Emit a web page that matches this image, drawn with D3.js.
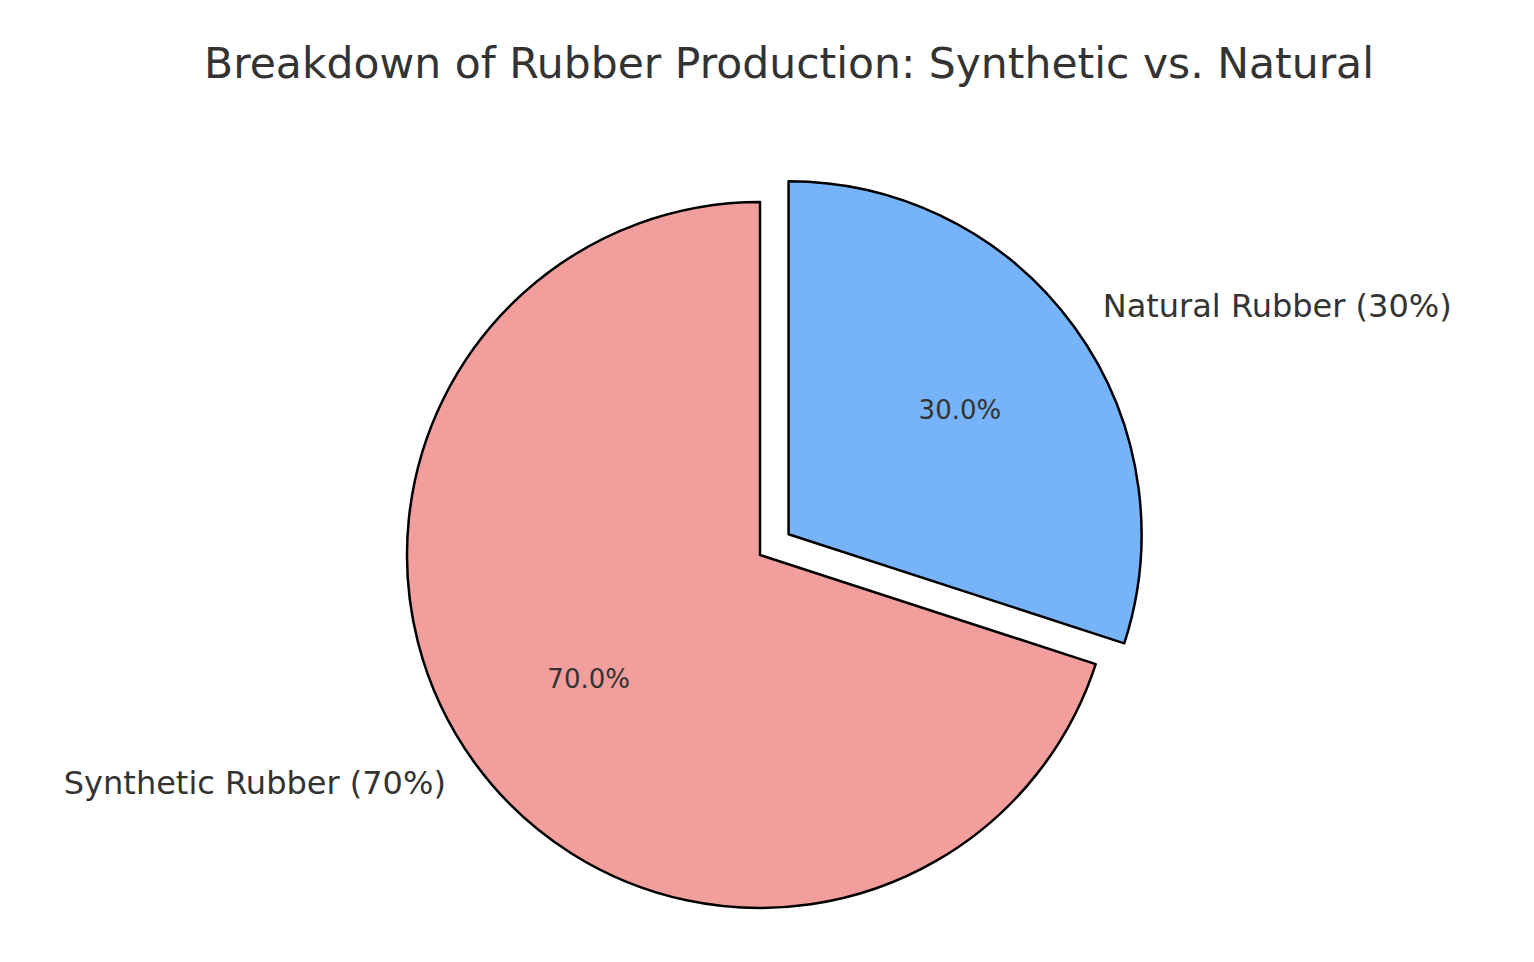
<!DOCTYPE html>
<html>
<head>
<meta charset="utf-8">
<script src="https://cdn.jsdelivr.net/npm/d3@7"></script>
<style>
  body { margin: 0; background: #fff; }
  text { font-family: "DejaVu Sans", sans-serif; fill: #333; }
</style>
</head>
<body>
<svg id="container" width="1534" height="962"></svg>
<script>
const categories = ["Synthetic Rubber", "Natural Rubber"];
const shares = [70, 30];
const colors = ["#F19E9C", "#77B3F8"];
const explode = [0, 0.1];

function draw() {
    let svg = d3.select("#container");

    let cx = 760, cy = 555, r = 353;

    svg.append("text")
        .attr("x", 789)
        .attr("y", 63)
        .attr("text-anchor", "middle")
        .attr("dominant-baseline", "central")
        .style("font-size", "42.5px")
        .text("Breakdown of Rubber Production: Synthetic vs. Natural");

    // matplotlib style: start at 12 o'clock, going clockwise, natural first
    let data = categories.map((c, i) => ({ name: c, value: shares[i], color: colors[i], explode: explode[i] }));
    let pie = d3.pie().sort(null).value(d => d.value);
    let arcs = pie([data[1], data[0]]);

    let arc = d3.arc().innerRadius(0).outerRadius(r);

    let g = svg.append("g").attr("transform", "translate(" + cx + "," + cy + ")");

    let slice = g.selectAll("g.slice")
        .data(arcs)
        .enter().append("g")
        .attr("class", "slice")
        .attr("transform", function(d) {
            let mid = (d.startAngle + d.endAngle) / 2;
            let off = d.data.explode * r;
            return "translate(" + (Math.sin(mid) * off) + "," + (-Math.cos(mid) * off) + ")";
        });

    slice.append("path")
        .attr("d", arc)
        .attr("fill", d => d.data.color)
        .attr("stroke", "#000")
        .attr("stroke-width", 2.5)
        .attr("stroke-linejoin", "round");

    slice.append("text")
        .attr("x", d => Math.sin((d.startAngle + d.endAngle) / 2) * r * 0.6)
        .attr("y", d => -Math.cos((d.startAngle + d.endAngle) / 2) * r * 0.6)
        .attr("text-anchor", "middle")
        .attr("dominant-baseline", "central")
        .style("font-size", "26px")
        .text(d => d.data.value.toFixed(1) + "%");

    slice.append("text")
        .attr("x", d => Math.sin((d.startAngle + d.endAngle) / 2) * r * 1.1)
        .attr("y", d => -Math.cos((d.startAngle + d.endAngle) / 2) * r * 1.1)
        .attr("text-anchor", d => Math.sin((d.startAngle + d.endAngle) / 2) > 0 ? "start" : "end")
        .attr("dominant-baseline", "central")
        .style("font-size", "32px")
        .text(d => d.data.name + " (" + d.data.value + "%)");
}

document.addEventListener("DOMContentLoaded", draw);
</script>
</body>
</html>
